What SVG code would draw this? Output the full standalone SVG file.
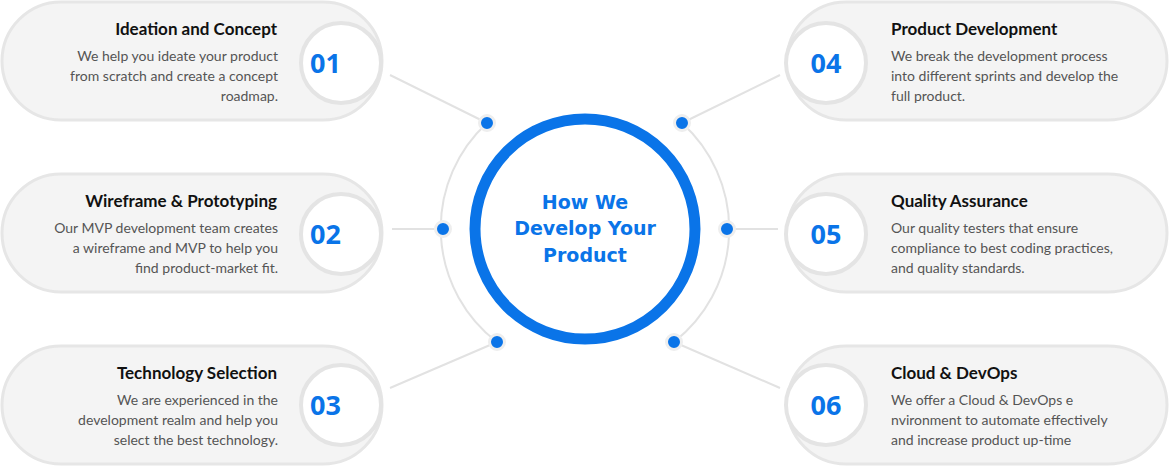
<svg xmlns="http://www.w3.org/2000/svg" width="1169" height="466" viewBox="0 0 1169 466">
<style>
.pill{fill:#f4f4f4;stroke:#e6e6e6;stroke-width:3}
.num{fill:#fff;stroke:#e4e4e4;stroke-width:4}
.nt{font-family:"Open Sans","Liberation Sans",sans-serif;font-weight:700;font-size:27px;fill:#0a74e8;text-anchor:middle}
.t{font-family:Lato,"Liberation Sans",sans-serif;font-weight:700;font-size:17px;fill:#111}
.d{font-family:Lato,"Liberation Sans",sans-serif;font-size:14px;fill:#555}
.l text{text-anchor:end}
.ln{stroke:#e2e2e2;stroke-width:2;fill:none}
.dot{fill:#0a74e8;stroke:#eeeeee;stroke-width:3}
</style>
<g id="connectors">
<path class="ln" d="M487,123 A143,143 0 0 0 497,342"/>
<path class="ln" d="M682,123 A143,143 0 0 1 674,342"/>
<line class="ln" x1="390" y1="75" x2="487" y2="123"/>
<line class="ln" x1="392" y1="229" x2="443" y2="229"/>
<line class="ln" x1="390" y1="388" x2="497" y2="342"/>
<line class="ln" x1="780" y1="75" x2="682" y2="123"/>
<line class="ln" x1="778" y1="229" x2="727" y2="229"/>
<line class="ln" x1="780" y1="388" x2="674" y2="342"/>
<circle class="dot" cx="487" cy="123" r="7.5"/>
<circle class="dot" cx="443" cy="229" r="7.5"/>
<circle class="dot" cx="497" cy="342" r="7.5"/>
<circle class="dot" cx="682" cy="123" r="7.5"/>
<circle class="dot" cx="727" cy="229" r="7.5"/>
<circle class="dot" cx="674" cy="342" r="7.5"/>
</g>
<g id="center">
<circle cx="585" cy="229" r="110" fill="#fff" stroke="#0a74e8" stroke-width="11"/>
<text font-family="Verdana,'DejaVu Sans',sans-serif" font-weight="700" font-size="19" fill="#0a74e8" text-anchor="middle"><tspan x="585" y="209">How We</tspan><tspan x="585" y="235">Develop Your</tspan><tspan x="585" y="262">Product</tspan></text>
</g>
<g id="n1" class="l">
<rect class="pill" x="2" y="2" width="380" height="118" rx="59"/>
<circle class="num" cx="341" cy="63" r="40"/><text class="nt" x="341" y="73">01</text>
<text class="t" x="277" y="35">Ideation and Concept</text>
<text class="d"><tspan x="278" y="61">We help you ideate your product</tspan><tspan x="278" y="81">from scratch and create a concept</tspan><tspan x="278" y="101">roadmap.</tspan></text>
</g>
<g id="n2" class="l">
<rect class="pill" x="2" y="174" width="380" height="118" rx="59"/>
<circle class="num" cx="341" cy="234" r="40"/><text class="nt" x="341" y="244">02</text>
<text class="t" x="277" y="207">Wireframe &amp; Prototyping</text>
<text class="d"><tspan x="278" y="233">Our MVP development team creates</tspan><tspan x="278" y="253">a wireframe and MVP to help you</tspan><tspan x="278" y="273">find product-market fit.</tspan></text>
</g>
<g id="n3" class="l">
<rect class="pill" x="2" y="346" width="380" height="118" rx="59"/>
<circle class="num" cx="341" cy="405" r="40"/><text class="nt" x="341" y="415">03</text>
<text class="t" x="277" y="379">Technology Selection</text>
<text class="d"><tspan x="278" y="405">We are experienced in the</tspan><tspan x="278" y="425">development realm and help you</tspan><tspan x="278" y="445">select the best  technology.</tspan></text>
</g>
<g id="n4">
<rect class="pill" x="787" y="2" width="380" height="118" rx="59"/>
<circle class="num" cx="826" cy="63" r="40"/><text class="nt" x="826" y="73">04</text>
<text class="t" x="891" y="35">Product Development</text>
<text class="d"><tspan x="891" y="61">We break the development process</tspan><tspan x="891" y="81">into different sprints and develop the</tspan><tspan x="891" y="101">full product.</tspan></text>
</g>
<g id="n5">
<rect class="pill" x="787" y="174" width="380" height="118" rx="59"/>
<circle class="num" cx="826" cy="234" r="40"/><text class="nt" x="826" y="244">05</text>
<text class="t" x="891" y="207">Quality Assurance</text>
<text class="d"><tspan x="891" y="233">Our quality testers that ensure</tspan><tspan x="891" y="253">compliance to best coding practices,</tspan><tspan x="891" y="273">and quality standards.</tspan></text>
</g>
<g id="n6">
<rect class="pill" x="787" y="346" width="380" height="118" rx="59"/>
<circle class="num" cx="826" cy="405" r="40"/><text class="nt" x="826" y="415">06</text>
<text class="t" x="891" y="379">Cloud &amp; DevOps</text>
<text class="d"><tspan x="891" y="405">We offer a Cloud &amp; DevOps e</tspan><tspan x="891" y="425">nvironment to automate effectively</tspan><tspan x="891" y="445">and increase product up-time</tspan></text>
</g>
</svg>
